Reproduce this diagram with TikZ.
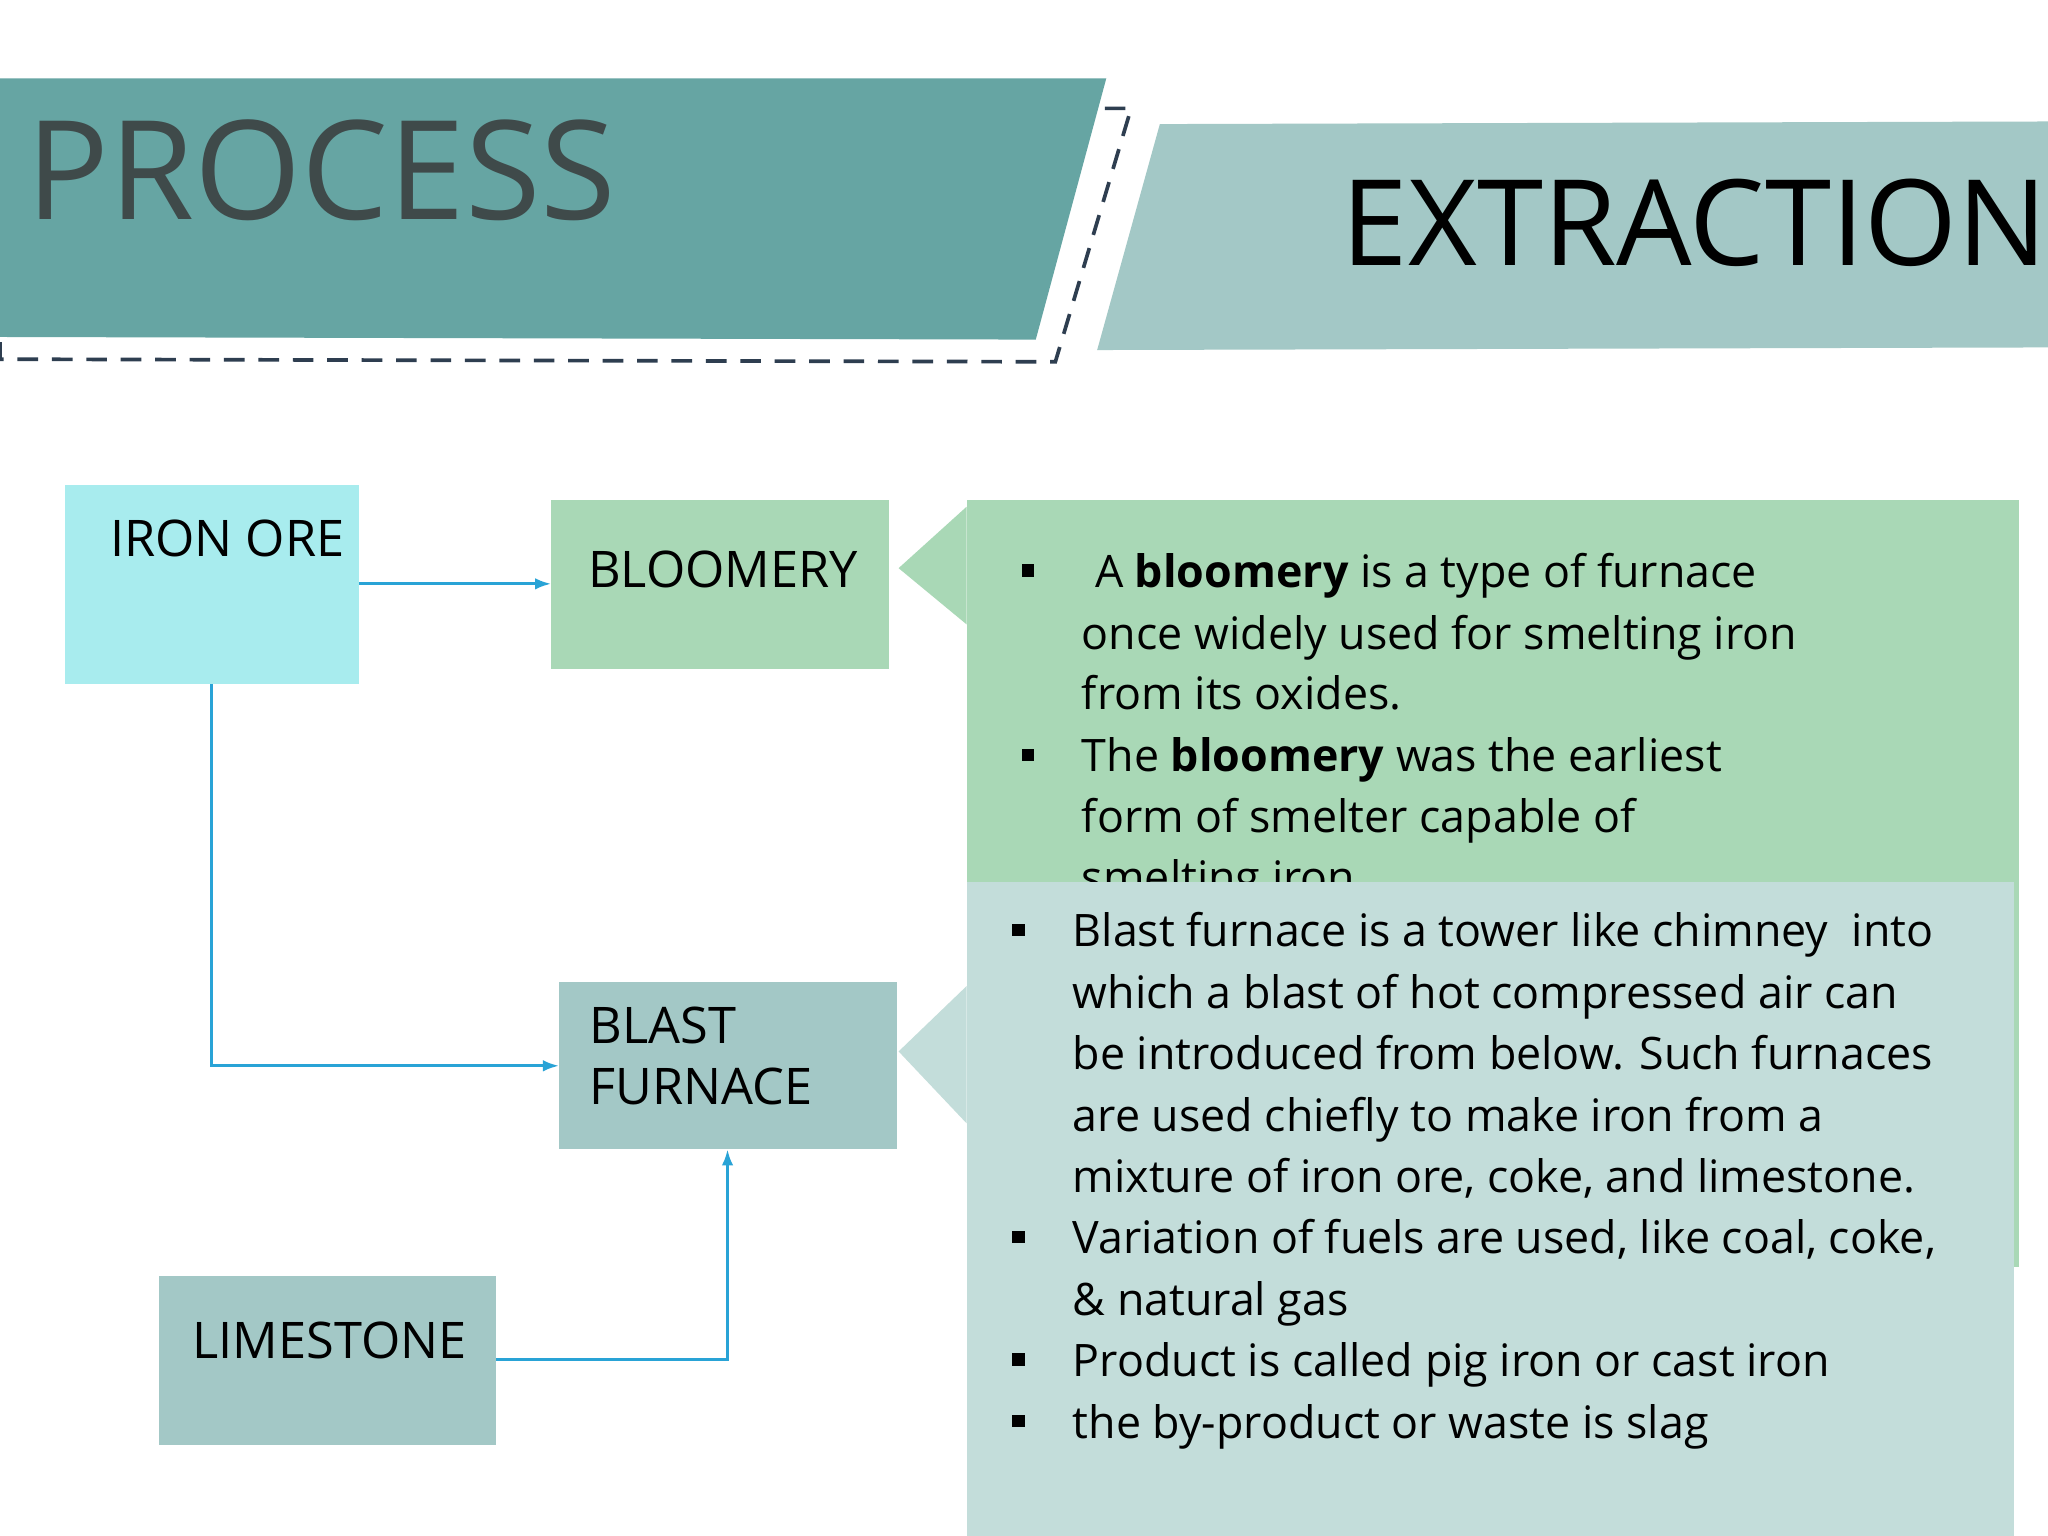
\documentclass[tikz,border=0pt]{standalone}
\usepackage{fontspec}
\setmainfont{Open Sans}
\definecolor{dteal}{HTML}{66A5A3}
\definecolor{lteal}{HTML}{A3C8C6}
\definecolor{cyanbox}{HTML}{A8ECEE}
\definecolor{gbox}{HTML}{A9D8B6}
\definecolor{bcall}{HTML}{C3DDDA}
\definecolor{navy}{HTML}{2E3E50}
\definecolor{arr}{HTML}{29A3D6}
\definecolor{ptxt}{HTML}{3F4A4A}
\newcommand{\blt}{\rule{5.5pt}{5.5pt}}
\begin{document}
\begin{tikzpicture}[x=0.02cm,y=-0.02cm,
  boxlbl/.style={anchor=base west,inner sep=0pt,font=\fontsize{22}{26}\selectfont},
  txt/.style={anchor=base west,inner sep=0pt,font=\fontsize{19.5}{23}\selectfont},
  bul/.style={anchor=center,inner sep=0pt},
  conn/.style={draw=arr,line width=1.2pt,-{Latex[length=7pt,width=5pt]}}]
\usetikzlibrary{arrows.meta}
\useasboundingbox (0,0) rectangle (1568,1176);
\fill[white] (0,0) rectangle (1568,1176);
% banners
\fill[dteal] (0,60) -- (847,60) -- (793,260) -- (0,258) -- cycle;
\draw[navy,dashed,line width=1.6pt,dash pattern=on 9pt off 6pt] (0,262) -- (0,275) -- (808,277) -- (866,83) -- (840,83);
\fill[lteal] (888,95) -- (1568,93) -- (1568,266) -- (840,268) -- cycle;
\node[anchor=base west,inner sep=0pt,text=ptxt,font=\fontsize{60}{70}\selectfont] (proc) at (20,168) {PROCESS};
\node[anchor=base west,inner sep=0pt,font=\fontsize{52}{60}\selectfont] (extr) at (1027,203) {EXTRACTION};
% boxes
\fill[cyanbox] (50,371) rectangle (275,524);
\coordinate (ioR) at (275,447); \coordinate (ioB) at (162,524);
\node[boxlbl] (io) at (84,426) {IRON ORE};
\fill[gbox] (422,383) rectangle (681,512);
\coordinate (blL) at (422,447);
\node[boxlbl] (bl) at (450,450) {BLOOMERY};
\fill[lteal] (428,752) rectangle (687,880);
\coordinate (bfL) at (428,816); \coordinate (bfB) at (557,880);
\node[boxlbl,align=left] (bf1) at (451,799) {BLAST};
\node[boxlbl] (bf2) at (451,846) {FURNACE};
\fill[lteal] (122,977) rectangle (380,1106);
\coordinate (lsR) at (380,1041);
\node[boxlbl] (ls) at (147,1040) {LIMESTONE};
% green callout
\fill[gbox] (740,383) rectangle (1546,970);
\fill[gbox] (740,388) -- (688,435) -- (740,478) -- cycle;
\node[bul] (g1) at (787,437) {\blt};
\node[txt] (gt1) at (838,450) {A \textbf{bloomery} is a type of furnace};
\node[txt] (gt2) at (828,497) {once widely used for smelting iron};
\node[txt] (gt3) at (828,543) {from its oxides.};
\node[bul] (g2) at (787,578) {\blt};
\node[txt] (gt4) at (828,591) {The \textbf{bloomery} was the earliest};
\node[txt] (gt5) at (828,637) {form of smelter capable of};
\node[txt] (gt6) at (828,684) {smelting iron.};
% blue callout
\fill[bcall] (740,675) rectangle (1542,1176);
\fill[bcall] (740,755) -- (688,805) -- (740,860) -- cycle;
\node[bul] (b1) at (780,712) {\blt};
\node[txt] (bt1) at (821,725) {Blast furnace is a tower like chimney \ into};
\node[txt] (bt2) at (821,772) {which a blast of hot compressed air can};
\node[txt] (bt3) at (821,819) {be introduced from below. Such furnaces};
\node[txt] (bt4) at (821,866) {are used chiefly to make iron from a};
\node[txt] (bt5) at (821,913) {mixture of iron ore, coke, and limestone.};
\node[bul] (b2) at (780,947) {\blt};
\node[txt] (bt6) at (821,960) {Variation of fuels are used, like coal, coke,};
\node[txt] (bt7) at (821,1007) {\& natural gas};
\node[bul] (b3) at (780,1041) {\blt};
\node[txt] (bt8) at (821,1054) {Product is called pig iron or cast iron};
\node[bul] (b4) at (780,1088) {\blt};
\node[txt] (bt9) at (821,1101) {the by-product or waste is slag};
% connectors
\draw[conn] (ioR) -- (blL);
\draw[conn] (ioB) |- (bfL);
\draw[conn] (lsR) -| (bfB);
\end{tikzpicture}
\end{document}
